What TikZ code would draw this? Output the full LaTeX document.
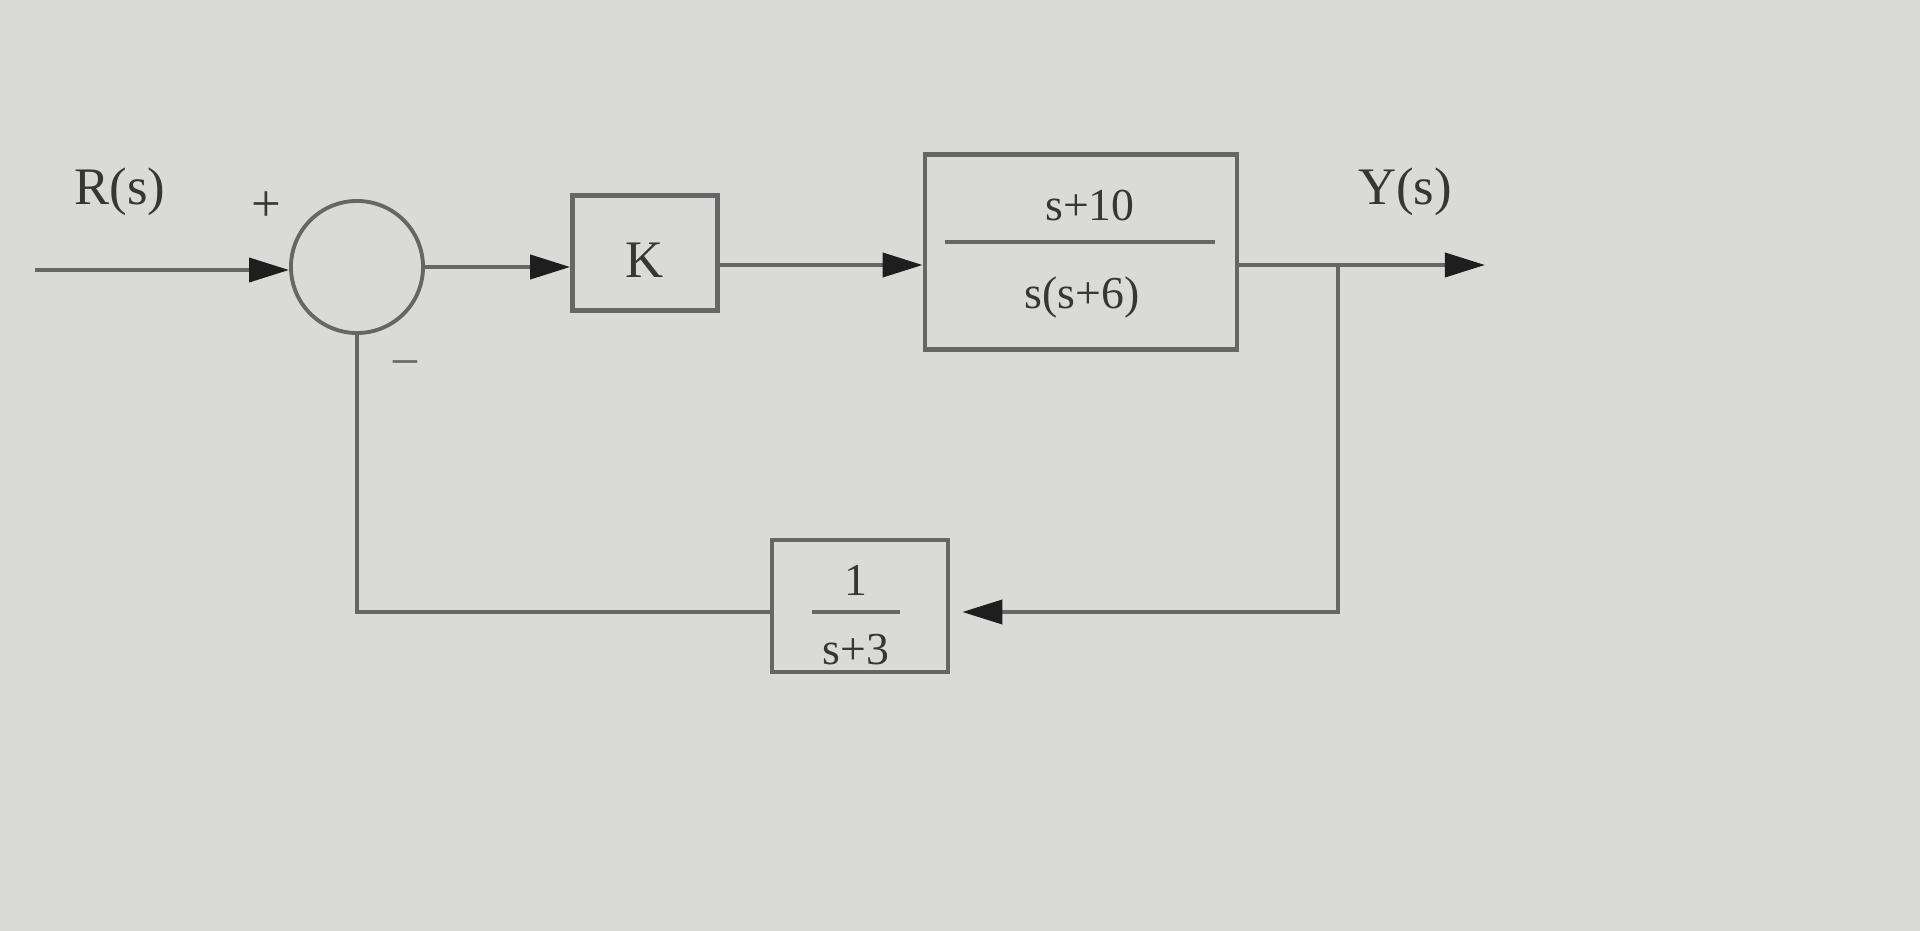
\documentclass[tikz,border=0pt]{standalone}
\usepackage{fontspec}
\setmainfont{Liberation Serif}
\usetikzlibrary{arrows.meta}
\definecolor{bg}{HTML}{DADAD8}
\definecolor{ln}{HTML}{666666}
\definecolor{tx}{HTML}{363636}
\definecolor{tip}{HTML}{1E1E1E}
\tikzset{
  wire/.style={draw=ln, line width=1.1pt},
  arr/.style={wire, -{Triangle[length=4mm,width=2.4mm,color=tip]}},
  blk/.style={draw=ln, line width=1.3pt, rectangle, inner sep=0pt},
  lbl/.style={text=tx, font=\fontsize{15}{18}\selectfont, inner sep=0pt},
  frac/.style={text=tx, font=\fontsize{13}{16}\selectfont, inner sep=0pt},
}
\begin{document}
\begin{tikzpicture}[x=0.01cm, y=-0.01cm]
\fill[bg] (0,0) rectangle (1920,931);
\useasboundingbox (0,0) rectangle (1920,931);

% blocks
\node[draw=ln, line width=1.1pt, circle, minimum size=1.32cm, inner sep=0pt] (sum) at (357,267) {};
\node[blk, minimum width=1.45cm, minimum height=1.15cm] (K) at (645,253) {};
\node[lbl] (Ktxt) at (645,260) {K};
\node[blk, minimum width=3.12cm, minimum height=1.95cm] (G) at (1081,252) {};
\node[blk, minimum width=1.76cm, minimum height=1.32cm] (H) at (860,606) {};

% fraction in G
\node[frac] (Gnum) at (1090,206) {s+10};
\coordinate (Gb1) at (945,242);
\coordinate (Gb2) at (1215,242);
\draw[wire, line width=1.3pt] (Gb1) -- (Gb2);
\node[frac] (Gden) at (1082,298) {s(s+6)};

% fraction in H
\node[frac] (Hnum) at (856,580) {1};
\coordinate (Hb1) at (812,612);
\coordinate (Hb2) at (900,612);
\draw[wire, line width=1.3pt] (Hb1) -- (Hb2);
\node[frac] (Hden) at (856,650) {s+3};

% labels
\node[lbl] (R) at (120,192) {R(s)};
\node[lbl] (Y) at (1405,192) {Y(s)};
\node[lbl] (plus) at (266,207) {+};
\node[lbl, text=ln] (minus) at (405,370) {−};

% connectors
\coordinate (in) at (35,270);
\coordinate (out) at (1485,265);
\coordinate (br) at (1338,265);
\draw[arr] (in) -- (sum.west |- in);
\draw[arr] (sum.east) -- (sum.east -| K.west);
\draw[arr] (K.east |- br) -- (G.west |- br);
\draw[arr] (G.east |- out) -- (out);
\draw[arr, shorten >=1.2mm] (br) |- ([yshift=-0.06cm]H.east);
\draw[wire] ([yshift=-0.06cm]H.west) -| (sum.south);
\end{tikzpicture}
\end{document}
